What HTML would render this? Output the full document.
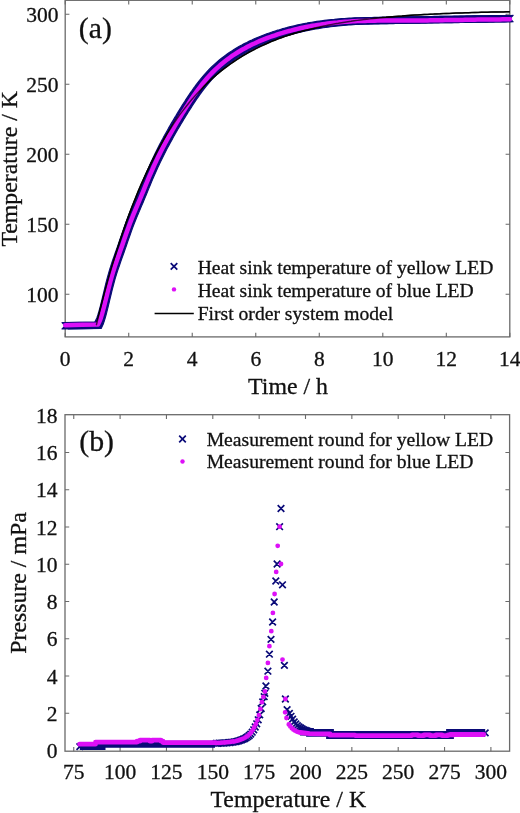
<!DOCTYPE html>
<html lang="en"><head><meta charset="utf-8"><title>Figure</title>
<style>
html,body{margin:0;padding:0;background:#fff;}
body{width:520px;height:813px;overflow:hidden;}
svg{display:block;}
text{font-family:"Liberation Serif", "DejaVu Serif", serif;fill:#111;stroke:#111;stroke-width:0.3px;}
.tk{font-size:21.5px;}
.lb{font-size:23.8px;}
.lg{font-size:19.62px;}
.pn{font-size:29.8px;}
</style></head><body>
<svg width="520" height="813" viewBox="0 0 520 813">
<rect x="0" y="0" width="520" height="813" fill="#fff"/>

<g id="plotA">
<rect x="65.2" y="0.3" width="444.60" height="336.60" fill="none" stroke="#6a6a6a" stroke-width="1.3"/>
<path d="M65.20 336.9v-4.2M65.20 0.3v4.2M128.72 336.9v-4.2M128.72 0.3v4.2M192.24 336.9v-4.2M192.24 0.3v4.2M255.76 336.9v-4.2M255.76 0.3v4.2M319.28 336.9v-4.2M319.28 0.3v4.2M382.80 336.9v-4.2M382.80 0.3v4.2M446.32 336.9v-4.2M446.32 0.3v4.2M509.84 336.9v-4.2M509.84 0.3v4.2M65.2 294.25h4.2M509.8 294.25h-4.2M65.2 224.25h4.2M509.8 224.25h-4.2M65.2 154.25h4.2M509.8 154.25h-4.2M65.2 84.25h4.2M509.8 84.25h-4.2M65.2 14.25h4.2M509.8 14.25h-4.2" stroke="#6a6a6a" stroke-width="1.1" fill="none"/>
<path d="M68.4 329.0L85.2 328.7L101.2 328.4L103.2 324.3L104.2 321.4L105.2 318.1L106.2 314.5L107.2 310.6L108.2 306.6L109.2 302.4L110.2 298.2L111.2 294.0L112.2 289.9L113.2 286.0L114.2 282.3L115.2 278.7L116.2 275.4L117.2 272.2L118.2 269.1L119.2 266.2L120.2 263.3L121.2 260.4L122.2 257.6L123.2 254.8L124.2 252.0L125.2 249.1L126.2 246.2L127.2 243.3L128.2 240.4L129.2 237.5L130.2 234.7L131.2 231.9L132.2 229.1L133.2 226.4L134.2 223.8L135.2 221.3L136.2 218.8L137.2 216.4L138.2 214.0L139.2 211.6L140.2 209.3L141.2 206.9L142.2 204.6L143.2 202.2L144.2 199.8L145.2 197.4L146.2 195.0L147.2 192.5L148.2 190.1L149.2 187.6L150.2 185.2L151.2 182.8L152.2 180.4L153.2 178.1L154.2 175.8L155.2 173.5L156.2 171.2L157.2 169.0L158.2 166.8L159.2 164.7L160.2 162.6L161.2 160.5L162.2 158.5L163.2 156.4L164.2 154.5L165.2 152.5L166.2 150.5L167.2 148.6L168.2 146.7L169.2 144.9L170.2 143.0L171.2 141.2L172.2 139.4L173.2 137.6L174.2 135.8L175.2 134.0L176.2 132.3L177.2 130.5L178.2 128.8L179.2 127.1L180.2 125.4L181.2 123.7L182.2 122.1L183.2 120.4L184.2 118.8L185.2 117.1L186.2 115.5L187.2 113.9L188.2 112.3L189.2 110.7L190.2 109.1L191.2 107.6L192.2 106.0L193.2 104.5L194.2 103.0L195.2 101.5L196.2 100.0L197.2 98.5L198.2 97.1L199.2 95.6L200.2 94.2L201.2 92.9L202.2 91.5L203.2 90.2L205.7 86.9L208.2 83.9L210.7 80.9L213.2 78.2L215.7 75.6L218.2 73.1L220.7 70.8L223.2 68.5L225.7 66.4L228.2 64.4L230.7 62.5L233.2 60.7L235.7 58.9L238.2 57.3L240.7 55.7L243.2 54.2L245.7 52.7L248.2 51.4L250.7 50.0L253.2 48.8L255.7 47.5L258.2 46.4L260.7 45.2L263.2 44.1L265.7 43.1L268.2 42.1L270.7 41.1L273.2 40.2L275.7 39.3L278.2 38.5L280.7 37.6L283.2 36.8L285.7 36.1L288.2 35.3L290.7 34.6L293.2 34.0L295.7 33.3L298.2 32.7L300.7 32.1L303.2 31.5L305.7 30.9L308.2 30.4L310.7 29.9L313.2 29.5L315.7 29.0L318.2 28.6L320.7 28.2L323.2 27.8L325.7 27.4L328.2 27.1L330.7 26.8L333.2 26.5L335.7 26.2L338.2 25.9L340.7 25.7L343.2 25.4L345.7 25.2L348.2 25.0L350.7 24.9L353.2 24.7L355.7 24.5L358.2 24.4L360.7 24.3L363.2 24.2L365.7 24.1L368.2 24.1L370.7 24.0L373.2 24.0L375.7 23.9L378.2 23.9L380.7 23.8L383.2 23.8L385.7 23.7L388.2 23.7L390.7 23.6L393.2 23.6L395.7 23.5L398.2 23.5L400.7 23.4L403.2 23.4L405.7 23.4L408.2 23.3L410.7 23.3L413.2 23.2L415.7 23.2L418.2 23.2L420.7 23.1L423.2 23.1L425.7 23.1L428.2 23.0L430.7 23.0L433.2 22.9L435.7 22.9L438.2 22.9L440.7 22.8L443.2 22.8L445.7 22.8L448.2 22.7L450.7 22.7L453.2 22.6L455.7 22.6L458.2 22.6L460.7 22.5L463.2 22.5L465.7 22.5L468.2 22.4L470.7 22.4L473.2 22.3L475.7 22.3L478.2 22.3L480.7 22.2L483.2 22.2L485.7 22.2L488.2 22.1L490.7 22.1L493.2 22.1L495.7 22.0L498.2 22.0L500.7 22.0L503.2 22.0L505.7 21.9L508.2 21.9L510.7 21.9L513.2 21.8L506.8 15.4L504.3 15.5L501.8 15.5L499.3 15.5L496.8 15.6L494.3 15.6L491.8 15.6L489.3 15.6L486.8 15.7L484.3 15.7L481.8 15.7L479.3 15.8L476.8 15.8L474.3 15.8L471.8 15.9L469.3 15.9L466.8 15.9L464.3 16.0L461.8 16.0L459.3 16.1L456.8 16.1L454.3 16.1L451.8 16.2L449.3 16.2L446.8 16.2L444.3 16.3L441.8 16.3L439.3 16.4L436.8 16.4L434.3 16.4L431.8 16.5L429.3 16.5L426.8 16.5L424.3 16.6L421.8 16.6L419.3 16.7L416.8 16.7L414.3 16.7L411.8 16.8L409.3 16.8L406.8 16.8L404.3 16.9L401.8 16.9L399.3 17.0L396.8 17.0L394.3 17.0L391.8 17.1L389.3 17.1L386.8 17.2L384.3 17.2L381.8 17.3L379.3 17.3L376.8 17.4L374.3 17.4L371.8 17.5L369.3 17.5L366.8 17.6L364.3 17.6L361.8 17.7L359.3 17.7L356.8 17.8L354.3 17.9L351.8 18.0L349.3 18.1L346.8 18.3L344.3 18.5L341.8 18.6L339.3 18.8L336.8 19.0L334.3 19.3L331.8 19.5L329.3 19.8L326.8 20.1L324.3 20.4L321.8 20.7L319.3 21.0L316.8 21.4L314.3 21.8L311.8 22.2L309.3 22.6L306.8 23.1L304.3 23.5L301.8 24.0L299.3 24.5L296.8 25.1L294.3 25.7L291.8 26.3L289.3 26.9L286.8 27.6L284.3 28.2L281.8 28.9L279.3 29.7L276.8 30.4L274.3 31.2L271.8 32.1L269.3 32.9L266.8 33.8L264.3 34.7L261.8 35.7L259.3 36.7L256.8 37.7L254.3 38.8L251.8 40.0L249.3 41.1L246.8 42.4L244.3 43.6L241.8 45.0L239.3 46.3L236.8 47.8L234.3 49.3L231.8 50.9L229.3 52.5L226.8 54.3L224.3 56.1L221.8 58.0L219.3 60.0L216.8 62.1L214.3 64.4L211.8 66.7L209.3 69.2L206.8 71.8L204.3 74.5L201.8 77.5L199.3 80.5L196.8 83.8L195.8 85.1L194.8 86.5L193.8 87.8L192.8 89.2L191.8 90.7L190.8 92.1L189.8 93.6L188.8 95.1L187.8 96.6L186.8 98.1L185.8 99.6L184.8 101.2L183.8 102.7L182.8 104.3L181.8 105.9L180.8 107.5L179.8 109.1L178.8 110.7L177.8 112.4L176.8 114.0L175.8 115.7L174.8 117.3L173.8 119.0L172.8 120.7L171.8 122.4L170.8 124.1L169.8 125.9L168.8 127.6L167.8 129.4L166.8 131.2L165.8 133.0L164.8 134.8L163.8 136.6L162.8 138.5L161.8 140.3L160.8 142.2L159.8 144.1L158.8 146.1L157.8 148.1L156.8 150.0L155.8 152.1L154.8 154.1L153.8 156.2L152.8 158.3L151.8 160.4L150.8 162.6L149.8 164.8L148.8 167.1L147.8 169.4L146.8 171.7L145.8 174.0L144.8 176.4L143.8 178.8L142.8 181.2L141.8 183.7L140.8 186.1L139.8 188.6L138.8 191.0L137.8 193.4L136.8 195.8L135.8 198.2L134.8 200.5L133.8 202.9L132.8 205.2L131.8 207.6L130.8 210.0L129.8 212.4L128.8 214.9L127.8 217.4L126.8 220.0L125.8 222.7L124.8 225.5L123.8 228.3L122.8 231.1L121.8 234.0L120.8 236.9L119.8 239.8L118.8 242.7L117.8 245.6L116.8 248.4L115.8 251.2L114.8 254.0L113.8 256.9L112.8 259.8L111.8 262.7L110.8 265.8L109.8 269.0L108.8 272.3L107.8 275.9L106.8 279.6L105.8 283.5L104.8 287.6L103.8 291.8L102.8 296.0L101.8 300.2L100.8 304.2L99.8 308.1L98.8 311.7L97.8 315.0L96.8 317.9L94.8 322.0L78.8 322.3L62.0 322.6Z" fill="#0a0a78" stroke="#0a0a78" stroke-width="1.1" stroke-linejoin="round"/>
<path d="M68.4 322.6L85.2 322.3L101.2 322.0L103.2 317.9L104.2 315.0L105.2 311.7L106.2 308.1L107.2 304.2L108.2 300.2L109.2 296.0L110.2 291.8L111.2 287.6L112.2 283.5L113.2 279.6L114.2 275.9L115.2 272.3L116.2 269.0L117.2 265.8L118.2 262.7L119.2 259.8L120.2 256.9L121.2 254.0L122.2 251.2L123.2 248.4L124.2 245.6L125.2 242.7L126.2 239.8L127.2 236.9L128.2 234.0L129.2 231.1L130.2 228.3L131.2 225.5L132.2 222.7L133.2 220.0L134.2 217.4L135.2 214.9L136.2 212.4L137.2 210.0L138.2 207.6L139.2 205.2L140.2 202.9L141.2 200.5L142.2 198.2L143.2 195.8L144.2 193.4L145.2 191.0L146.2 188.6L147.2 186.1L148.2 183.7L149.2 181.2L150.2 178.8L151.2 176.4L152.2 174.0L153.2 171.7L154.2 169.4L155.2 167.1L156.2 164.8L157.2 162.6L158.2 160.4L159.2 158.3L160.2 156.2L161.2 154.1L162.2 152.1L163.2 150.0L164.2 148.1L165.2 146.1L166.2 144.1L167.2 142.2L168.2 140.3L169.2 138.5L170.2 136.6L171.2 134.8L172.2 133.0L173.2 131.2L174.2 129.4L175.2 127.6L176.2 125.9L177.2 124.1L178.2 122.4L179.2 120.7L180.2 119.0L181.2 117.3L182.2 115.7L183.2 114.0L184.2 112.4L185.2 110.7L186.2 109.1L187.2 107.5L188.2 105.9L189.2 104.3L190.2 102.7L191.2 101.2L192.2 99.6L193.2 98.1L194.2 96.6L195.2 95.1L196.2 93.6L197.2 92.1L198.2 90.7L199.2 89.2L200.2 87.8L201.2 86.5L202.2 85.1L203.2 83.8L205.7 80.5L208.2 77.5L210.7 74.5L213.2 71.8L215.7 69.2L218.2 66.7L220.7 64.4L223.2 62.1L225.7 60.0L228.2 58.0L230.7 56.1L233.2 54.3L235.7 52.5L238.2 50.9L240.7 49.3L243.2 47.8L245.7 46.3L248.2 45.0L250.7 43.6L253.2 42.4L255.7 41.1L258.2 40.0L260.7 38.8L263.2 37.7L265.7 36.7L268.2 35.7L270.7 34.7L273.2 33.8L275.7 32.9L278.2 32.1L280.7 31.2L283.2 30.4L285.7 29.7L288.2 28.9L290.7 28.2L293.2 27.6L295.7 26.9L298.2 26.3L300.7 25.7L303.2 25.1L305.7 24.5L308.2 24.0L310.7 23.5L313.2 23.1L315.7 22.6L318.2 22.2L320.7 21.8L323.2 21.4L325.7 21.0L328.2 20.7L330.7 20.4L333.2 20.1L335.7 19.8L338.2 19.5L340.7 19.3L343.2 19.0L345.7 18.8L348.2 18.6L350.7 18.5L353.2 18.3L355.7 18.1L358.2 18.0L360.7 17.9L363.2 17.8L365.7 17.7L368.2 17.7L370.7 17.6L373.2 17.6L375.7 17.5L378.2 17.5L380.7 17.4L383.2 17.4L385.7 17.3L388.2 17.3L390.7 17.2L393.2 17.2L395.7 17.1L398.2 17.1L400.7 17.0L403.2 17.0L405.7 17.0L408.2 16.9L410.7 16.9L413.2 16.8L415.7 16.8L418.2 16.8L420.7 16.7L423.2 16.7L425.7 16.7L428.2 16.6L430.7 16.6L433.2 16.5L435.7 16.5L438.2 16.5L440.7 16.4L443.2 16.4L445.7 16.4L448.2 16.3L450.7 16.3L453.2 16.2L455.7 16.2L458.2 16.2L460.7 16.1L463.2 16.1L465.7 16.1L468.2 16.0L470.7 16.0L473.2 15.9L475.7 15.9L478.2 15.9L480.7 15.8L483.2 15.8L485.7 15.8L488.2 15.7L490.7 15.7L493.2 15.7L495.7 15.6L498.2 15.6L500.7 15.6L503.2 15.6L505.7 15.5L508.2 15.5L510.7 15.5L513.2 15.4L506.8 21.8L504.3 21.9L501.8 21.9L499.3 21.9L496.8 22.0L494.3 22.0L491.8 22.0L489.3 22.0L486.8 22.1L484.3 22.1L481.8 22.1L479.3 22.2L476.8 22.2L474.3 22.2L471.8 22.3L469.3 22.3L466.8 22.3L464.3 22.4L461.8 22.4L459.3 22.5L456.8 22.5L454.3 22.5L451.8 22.6L449.3 22.6L446.8 22.6L444.3 22.7L441.8 22.7L439.3 22.8L436.8 22.8L434.3 22.8L431.8 22.9L429.3 22.9L426.8 22.9L424.3 23.0L421.8 23.0L419.3 23.1L416.8 23.1L414.3 23.1L411.8 23.2L409.3 23.2L406.8 23.2L404.3 23.3L401.8 23.3L399.3 23.4L396.8 23.4L394.3 23.4L391.8 23.5L389.3 23.5L386.8 23.6L384.3 23.6L381.8 23.7L379.3 23.7L376.8 23.8L374.3 23.8L371.8 23.9L369.3 23.9L366.8 24.0L364.3 24.0L361.8 24.1L359.3 24.1L356.8 24.2L354.3 24.3L351.8 24.4L349.3 24.5L346.8 24.7L344.3 24.9L341.8 25.0L339.3 25.2L336.8 25.4L334.3 25.7L331.8 25.9L329.3 26.2L326.8 26.5L324.3 26.8L321.8 27.1L319.3 27.4L316.8 27.8L314.3 28.2L311.8 28.6L309.3 29.0L306.8 29.5L304.3 29.9L301.8 30.4L299.3 30.9L296.8 31.5L294.3 32.1L291.8 32.7L289.3 33.3L286.8 34.0L284.3 34.6L281.8 35.3L279.3 36.1L276.8 36.8L274.3 37.6L271.8 38.5L269.3 39.3L266.8 40.2L264.3 41.1L261.8 42.1L259.3 43.1L256.8 44.1L254.3 45.2L251.8 46.4L249.3 47.5L246.8 48.8L244.3 50.0L241.8 51.4L239.3 52.7L236.8 54.2L234.3 55.7L231.8 57.3L229.3 58.9L226.8 60.7L224.3 62.5L221.8 64.4L219.3 66.4L216.8 68.5L214.3 70.8L211.8 73.1L209.3 75.6L206.8 78.2L204.3 80.9L201.8 83.9L199.3 86.9L196.8 90.2L195.8 91.5L194.8 92.9L193.8 94.2L192.8 95.6L191.8 97.1L190.8 98.5L189.8 100.0L188.8 101.5L187.8 103.0L186.8 104.5L185.8 106.0L184.8 107.6L183.8 109.1L182.8 110.7L181.8 112.3L180.8 113.9L179.8 115.5L178.8 117.1L177.8 118.8L176.8 120.4L175.8 122.1L174.8 123.7L173.8 125.4L172.8 127.1L171.8 128.8L170.8 130.5L169.8 132.3L168.8 134.0L167.8 135.8L166.8 137.6L165.8 139.4L164.8 141.2L163.8 143.0L162.8 144.9L161.8 146.7L160.8 148.6L159.8 150.5L158.8 152.5L157.8 154.5L156.8 156.4L155.8 158.5L154.8 160.5L153.8 162.6L152.8 164.7L151.8 166.8L150.8 169.0L149.8 171.2L148.8 173.5L147.8 175.8L146.8 178.1L145.8 180.4L144.8 182.8L143.8 185.2L142.8 187.6L141.8 190.1L140.8 192.5L139.8 195.0L138.8 197.4L137.8 199.8L136.8 202.2L135.8 204.6L134.8 206.9L133.8 209.3L132.8 211.6L131.8 214.0L130.8 216.4L129.8 218.8L128.8 221.3L127.8 223.8L126.8 226.4L125.8 229.1L124.8 231.9L123.8 234.7L122.8 237.5L121.8 240.4L120.8 243.3L119.8 246.2L118.8 249.1L117.8 252.0L116.8 254.8L115.8 257.6L114.8 260.4L113.8 263.3L112.8 266.2L111.8 269.1L110.8 272.2L109.8 275.4L108.8 278.7L107.8 282.3L106.8 286.0L105.8 289.9L104.8 294.0L103.8 298.2L102.8 302.4L101.8 306.6L100.8 310.6L99.8 314.5L98.8 318.1L97.8 321.4L96.8 324.3L94.8 328.4L78.8 328.7L62.0 329.0Z" fill="#0a0a78" stroke="#0a0a78" stroke-width="1.1" stroke-linejoin="round"/>
<path d="M65.2 325.2L96.3 325.2L97.0 322.6L100.1 309.7L103.3 297.4L106.5 285.6L109.7 274.3L112.8 263.5L116.0 253.1L119.2 243.1L122.4 233.5L125.5 224.4L128.7 215.6L131.9 207.1L135.1 199.1L138.2 191.3L141.4 183.9L144.6 176.7L147.8 169.9L151.0 163.4L154.1 157.1L157.3 151.0L160.5 145.3L163.7 139.7L166.8 134.4L170.0 129.3L173.2 124.4L176.4 119.7L179.5 115.2L182.7 110.9L185.9 106.8L189.1 102.8L192.2 99.0L195.4 95.4L198.6 91.9L201.8 88.6L204.9 85.3L208.1 82.3L211.3 79.3L214.5 76.5L217.6 73.8L220.8 71.2L224.0 68.7L227.2 66.3L230.4 64.0L233.5 61.8L236.7 59.7L239.9 57.6L243.1 55.7L246.2 53.8L249.4 52.0L252.6 50.3L255.8 48.7L258.9 47.1L262.1 45.6L265.3 44.2L268.5 42.8L271.6 41.4L274.8 40.2L278.0 38.9L281.2 37.8L284.3 36.6L287.5 35.6L290.7 34.5L293.9 33.5L297.0 32.6L300.2 31.7L303.4 30.8L306.6 30.0L309.8 29.2L312.9 28.4L316.1 27.7L319.3 26.9L322.5 26.3L325.6 25.6L328.8 25.0L332.0 24.4L335.2 23.8L338.3 23.3L341.5 22.7L344.7 22.2L347.9 21.7L351.0 21.3L354.2 20.8L357.4 20.4L360.6 20.0L363.7 19.6L366.9 19.2L370.1 18.9L373.3 18.5L376.4 18.2L379.6 17.9L382.8 17.5L386.0 17.3L389.2 17.0L392.3 16.7L395.5 16.4L398.7 16.2L401.9 16.0L405.0 15.7L408.2 15.5L411.4 15.3L414.6 15.1L417.7 14.9L420.9 14.7L424.1 14.5L427.3 14.4L430.4 14.2L433.6 14.1L436.8 13.9L440.0 13.8L443.1 13.6L446.3 13.5L449.5 13.4L452.7 13.2L455.8 13.1L459.0 13.0L462.2 12.9L465.4 12.8L468.6 12.7L471.7 12.6L474.9 12.5L478.1 12.4L481.3 12.3L484.4 12.3L487.6 12.2L490.8 12.1L494.0 12.0L497.1 12.0L500.3 11.9L503.5 11.9L506.7 11.8L509.8 11.7" fill="none" stroke="#000" stroke-width="1.5" stroke-linejoin="round"/>
<path d="M65.2 325.3L82.0 324.8L98.0 324.4L100.0 320.3L101.0 317.4L102.0 314.1L103.0 310.5L104.0 306.7L105.0 302.8L106.0 298.7L107.0 294.6L108.0 290.5L109.0 286.6L110.0 282.7L111.0 279.1L112.0 275.5L113.0 272.2L114.0 269.0L115.0 265.9L116.0 263.0L117.0 260.1L118.0 257.2L119.0 254.4L120.0 251.6L121.0 248.8L122.0 245.9L123.0 243.0L124.0 240.1L125.0 237.2L126.0 234.3L127.0 231.5L128.0 228.7L129.0 225.9L130.0 223.2L131.0 220.6L132.0 218.1L133.0 215.6L134.0 213.2L135.0 210.8L136.0 208.4L137.0 206.1L138.0 203.7L139.0 201.4L140.0 199.0L141.0 196.6L142.0 194.2L143.0 191.8L144.0 189.3L145.0 186.9L146.0 184.4L147.0 182.0L148.0 179.6L149.0 177.2L150.0 174.9L151.0 172.6L152.0 170.3L153.0 168.0L154.0 165.8L155.0 163.6L156.0 161.5L157.0 159.4L158.0 157.3L159.0 155.3L160.0 153.2L161.0 151.3L162.0 149.3L163.0 147.3L164.0 145.4L165.0 143.5L166.0 141.7L167.0 139.8L168.0 138.0L169.0 136.2L170.0 134.4L171.0 132.6L172.0 130.8L173.0 129.1L174.0 127.3L175.0 125.6L176.0 123.9L177.0 122.2L178.0 120.5L179.0 118.9L180.0 117.2L181.0 115.6L182.0 113.9L183.0 112.3L184.0 110.7L185.0 109.1L186.0 107.5L187.0 105.9L188.0 104.4L189.0 102.8L190.0 101.3L191.0 99.8L192.0 98.3L193.0 96.8L194.0 95.3L195.0 93.9L196.0 92.4L197.0 91.0L198.0 89.7L199.0 88.3L200.0 87.0L202.5 83.7L205.0 80.7L207.5 77.7L210.0 75.0L212.5 72.4L215.0 69.9L217.5 67.6L220.0 65.3L222.5 63.2L225.0 61.2L227.5 59.3L230.0 57.5L232.5 55.7L235.0 54.1L237.5 52.5L240.0 51.0L242.5 49.5L245.0 48.2L247.5 46.8L250.0 45.6L252.5 44.3L255.0 43.2L257.5 42.0L260.0 40.9L262.5 39.9L265.0 38.9L267.5 37.9L270.0 37.0L272.5 36.1L275.0 35.3L277.5 34.4L280.0 33.6L282.5 32.9L285.0 32.1L287.5 31.4L290.0 30.8L292.5 30.1L295.0 29.5L297.5 28.9L300.0 28.3L302.5 27.7L305.0 27.2L307.5 26.7L310.0 26.3L312.5 25.8L315.0 25.4L317.5 25.0L320.0 24.6L322.5 24.2L325.0 23.9L327.5 23.6L330.0 23.3L332.5 23.0L335.0 22.7L337.5 22.5L340.0 22.2L342.5 22.0L345.0 21.8L347.5 21.7L350.0 21.5L352.5 21.3L355.0 21.2L357.5 21.1L360.0 21.0L362.5 20.9L365.0 20.9L367.5 20.8L370.0 20.8L372.5 20.7L375.0 20.7L377.5 20.6L380.0 20.6L382.5 20.6L385.0 20.6L387.5 20.6L390.0 20.5L392.5 20.5L395.0 20.5L397.5 20.5L400.0 20.5L402.5 20.5L405.0 20.5L407.5 20.5L410.0 20.5L412.5 20.5L415.0 20.5L417.5 20.5L420.0 20.5L422.5 20.5L425.0 20.4L427.5 20.4L430.0 20.3L432.5 20.3L435.0 20.3L437.5 20.2L440.0 20.2L442.5 20.2L445.0 20.1L447.5 20.1L450.0 20.0L452.5 20.0L455.0 20.0L457.5 19.9L460.0 19.9L462.5 19.9L465.0 19.8L467.5 19.8L470.0 19.7L472.5 19.7L475.0 19.7L477.5 19.6L480.0 19.6L482.5 19.6L485.0 19.5L487.5 19.5L490.0 19.5L492.5 19.4L495.0 19.4L497.5 19.4L500.0 19.4L502.5 19.3L505.0 19.3L507.5 19.3L510.0 19.2" fill="none" stroke="#dd10f7" stroke-width="4.5" stroke-linecap="round" stroke-linejoin="round"/>
<path d="M96.3 325.2L97.0 322.6L100.1 309.7L103.3 297.4L106.5 285.6L109.7 274.3L112.8 263.5L116.0 253.1L119.2 243.1L122.4 233.5L125.5 224.4L128.7 215.6L131.9 207.1L135.1 199.1L138.2 191.3L141.4 183.9L144.6 176.7L147.8 169.9L151.0 163.4L154.1 157.1L157.3 151.0L160.5 145.3L163.7 139.7L166.8 134.4L170.0 129.3L173.2 124.4L176.4 119.7L179.5 115.2L182.7 110.9L185.9 106.8L189.1 102.8L192.2 99.0L195.4 95.4L198.6 91.9L201.8 88.6L204.9 85.3L208.1 82.3L211.3 79.3L214.5 76.5L217.6 73.8L220.8 71.2L224.0 68.7L227.2 66.3L230.4 64.0L233.5 61.8L236.7 59.7L239.9 57.6L243.1 55.7L246.2 53.8L249.4 52.0L252.6 50.3L255.8 48.7L258.9 47.1L262.1 45.6L265.3 44.2L268.5 42.8L271.6 41.4L274.8 40.2L278.0 38.9L281.2 37.8L284.3 36.6L287.5 35.6L290.7 34.5L293.9 33.5L297.0 32.6L300.2 31.7L303.4 30.8L306.6 30.0L309.8 29.2L312.9 28.4L316.1 27.7L319.3 26.9L322.5 26.3L325.6 25.6L328.8 25.0L332.0 24.4L335.2 23.8L338.3 23.3L341.5 22.7L344.7 22.2L347.9 21.7L351.0 21.3L354.2 20.8L357.4 20.4L360.6 20.0L363.7 19.6L366.9 19.2L370.1 18.9L373.3 18.5L376.4 18.2L379.6 17.9L382.8 17.5L386.0 17.3L389.2 17.0L392.3 16.7L395.5 16.4L398.7 16.2L401.9 16.0L405.0 15.7L408.2 15.5L411.4 15.3L414.6 15.1L417.7 14.9L420.9 14.7L424.1 14.5L427.3 14.4L430.4 14.2L433.6 14.1L436.8 13.9L440.0 13.8L443.1 13.6L446.3 13.5L449.5 13.4L452.7 13.2L455.8 13.1L459.0 13.0L462.2 12.9L465.4 12.8L468.6 12.7L471.7 12.6L474.9 12.5L478.1 12.4L481.3 12.3L484.4 12.3L487.6 12.2L490.8 12.1L494.0 12.0L497.1 12.0L500.3 11.9L503.5 11.9L506.7 11.8L509.8 11.7" fill="none" stroke="#000" stroke-opacity="0.7" stroke-width="1.4" stroke-linejoin="round"/>
<text class="tk" x="65.2" y="365.5" text-anchor="middle">0</text>
<text class="tk" x="128.7" y="365.5" text-anchor="middle">2</text>
<text class="tk" x="192.2" y="365.5" text-anchor="middle">4</text>
<text class="tk" x="255.8" y="365.5" text-anchor="middle">6</text>
<text class="tk" x="319.3" y="365.5" text-anchor="middle">8</text>
<text class="tk" x="382.8" y="365.5" text-anchor="middle">10</text>
<text class="tk" x="446.3" y="365.5" text-anchor="middle">12</text>
<text class="tk" x="509.8" y="365.5" text-anchor="middle">14</text>
<text class="tk" x="58.5" y="301.6" text-anchor="end">100</text>
<text class="tk" x="58.5" y="231.6" text-anchor="end">150</text>
<text class="tk" x="58.5" y="161.6" text-anchor="end">200</text>
<text class="tk" x="58.5" y="91.5" text-anchor="end">250</text>
<text class="tk" x="58.5" y="21.6" text-anchor="end">300</text>
<text class="lb" x="288" y="394" text-anchor="middle">Time / h</text>
<text class="lb" transform="translate(16.6 168.8) rotate(-90)" text-anchor="middle">Temperature / K</text>
<text class="pn" x="78.8" y="38.0">(a)</text>
<path d="M170.7 263.1l6.6 6.6m0 -6.6l-6.6 6.6" stroke="#0a0a78" stroke-width="1.7" fill="none"/>
<circle cx="174" cy="289.4" r="2.2" fill="#dd10f7"/>
<path d="M154.6 313.5H193.8" stroke="#000" stroke-width="1.5"/>
<text class="lg" x="197.7" y="273.8">Heat sink temperature of yellow LED</text>
<text class="lg" x="197.7" y="296.9">Heat sink temperature of blue LED</text>
<text class="lg" x="197.7" y="320">First order system model</text>
</g>
<g id="plotB">
<rect x="65.0" y="414.7" width="444.60" height="336.50" fill="none" stroke="#6a6a6a" stroke-width="1.3"/>
<path d="M73.75 751.2v-4.2M73.75 414.7v4.2M120.10 751.2v-4.2M120.10 414.7v4.2M166.45 751.2v-4.2M166.45 414.7v4.2M212.80 751.2v-4.2M212.80 414.7v4.2M259.15 751.2v-4.2M259.15 414.7v4.2M305.50 751.2v-4.2M305.50 414.7v4.2M351.85 751.2v-4.2M351.85 414.7v4.2M398.20 751.2v-4.2M398.20 414.7v4.2M444.55 751.2v-4.2M444.55 414.7v4.2M490.90 751.2v-4.2M490.90 414.7v4.2M65.0 713.25h4.2M509.6 713.25h-4.2M65.0 676.00h4.2M509.6 676.00h-4.2M65.0 638.75h4.2M509.6 638.75h-4.2M65.0 601.50h4.2M509.6 601.50h-4.2M65.0 564.25h4.2M509.6 564.25h-4.2M65.0 527.00h4.2M509.6 527.00h-4.2M65.0 489.75h4.2M509.6 489.75h-4.2M65.0 452.50h4.2M509.6 452.50h-4.2" stroke="#6a6a6a" stroke-width="1.1" fill="none"/>
<path d="M79.8 746.6L102.0 746.6L102.0 744.3L215.0 744.3" fill="none" stroke="#0a0a78" stroke-width="7" stroke-linejoin="miter"/>
<path d="M300.0 731.6L310.0 731.8L310.0 732.8L330.0 732.8L330.0 735.0L450.0 735.0L450.0 732.9L485.2 732.9" fill="none" stroke="#0a0a78" stroke-width="7.8" stroke-linejoin="miter"/>
<path d="M260.9 693.4l6.6 6.6m0 -6.6l-6.6 6.6M259.4 698.6l6.6 6.6m0 -6.6l-6.6 6.6M257.9 705.2l6.6 6.6m0 -6.6l-6.6 6.6M256.4 711.6l6.6 6.6m0 -6.6l-6.6 6.6M254.9 716.5l6.6 6.6m0 -6.6l-6.6 6.6M253.4 720.5l6.6 6.6m0 -6.6l-6.6 6.6M251.9 723.7l6.6 6.6m0 -6.6l-6.6 6.6M250.4 726.5l6.6 6.6m0 -6.6l-6.6 6.6M248.9 728.9l6.6 6.6m0 -6.6l-6.6 6.6M247.4 730.8l6.6 6.6m0 -6.6l-6.6 6.6M245.9 732.2l6.6 6.6m0 -6.6l-6.6 6.6M244.4 733.4l6.6 6.6m0 -6.6l-6.6 6.6M242.9 734.4l6.6 6.6m0 -6.6l-6.6 6.6M241.4 735.3l6.6 6.6m0 -6.6l-6.6 6.6M239.9 735.9l6.6 6.6m0 -6.6l-6.6 6.6M238.4 736.5l6.6 6.6m0 -6.6l-6.6 6.6M236.9 737.1l6.6 6.6m0 -6.6l-6.6 6.6M235.4 737.5l6.6 6.6m0 -6.6l-6.6 6.6M233.9 738.0l6.6 6.6m0 -6.6l-6.6 6.6M232.4 738.3l6.6 6.6m0 -6.6l-6.6 6.6M230.9 738.6l6.6 6.6m0 -6.6l-6.6 6.6M229.4 738.8l6.6 6.6m0 -6.6l-6.6 6.6M227.9 739.0l6.6 6.6m0 -6.6l-6.6 6.6M226.4 739.2l6.6 6.6m0 -6.6l-6.6 6.6M224.9 739.3l6.6 6.6m0 -6.6l-6.6 6.6M223.4 739.5l6.6 6.6m0 -6.6l-6.6 6.6M221.9 739.6l6.6 6.6m0 -6.6l-6.6 6.6M220.4 739.7l6.6 6.6m0 -6.6l-6.6 6.6M218.9 739.8l6.6 6.6m0 -6.6l-6.6 6.6M217.4 739.9l6.6 6.6m0 -6.6l-6.6 6.6M215.9 739.9l6.6 6.6m0 -6.6l-6.6 6.6M214.4 740.0l6.6 6.6m0 -6.6l-6.6 6.6M212.9 740.0l6.6 6.6m0 -6.6l-6.6 6.6M277.7 505.2l6.6 6.6m0 -6.6l-6.6 6.6M276.3 523.4l6.6 6.6m0 -6.6l-6.6 6.6M273.8 560.7l6.6 6.6m0 -6.6l-6.6 6.6M272.5 577.7l6.6 6.6m0 -6.6l-6.6 6.6M279.2 581.5l6.6 6.6m0 -6.6l-6.6 6.6M270.9 598.7l6.6 6.6m0 -6.6l-6.6 6.6M269.3 618.7l6.6 6.6m0 -6.6l-6.6 6.6M267.7 636.1l6.6 6.6m0 -6.6l-6.6 6.6M266.1 650.9l6.6 6.6m0 -6.6l-6.6 6.6M264.6 667.9l6.6 6.6m0 -6.6l-6.6 6.6M262.6 682.7l6.6 6.6m0 -6.6l-6.6 6.6M261.5 690.0l6.6 6.6m0 -6.6l-6.6 6.6M281.1 662.1l6.6 6.6m0 -6.6l-6.6 6.6M282.1 695.7l6.6 6.6m0 -6.6l-6.6 6.6M283.8 706.3l6.6 6.6m0 -6.6l-6.6 6.6M286.1 710.1l6.6 6.6m0 -6.6l-6.6 6.6M287.7 713.0l6.6 6.6m0 -6.6l-6.6 6.6M289.3 715.8l6.6 6.6m0 -6.6l-6.6 6.6M290.9 718.6l6.6 6.6m0 -6.6l-6.6 6.6M292.5 720.7l6.6 6.6m0 -6.6l-6.6 6.6M294.1 722.3l6.6 6.6m0 -6.6l-6.6 6.6M295.7 723.7l6.6 6.6m0 -6.6l-6.6 6.6M297.3 724.7l6.6 6.6m0 -6.6l-6.6 6.6M298.9 725.7l6.6 6.6m0 -6.6l-6.6 6.6M300.5 726.5l6.6 6.6m0 -6.6l-6.6 6.6M302.1 727.2l6.6 6.6m0 -6.6l-6.6 6.6M303.7 727.6l6.6 6.6m0 -6.6l-6.6 6.6M481.9 729.6l6.6 6.6m0 -6.6l-6.6 6.6M76.5 743.3l6.6 6.6m0 -6.6l-6.6 6.6" fill="none" stroke="#0a0a78" stroke-width="1.7"/>
<path d="M79.6 744.2L95.5 744.2L95.5 742.2L137.0 742.2L137.0 741.2L140.0 741.2L140.0 740.2L150.0 740.2L150.0 741.2L152.0 741.2L152.0 740.2L161.0 740.2L161.0 741.2L163.0 741.2L163.0 742.6L215.0 742.6" fill="none" stroke="#dd10f7" stroke-width="4.8" stroke-linecap="round" stroke-linejoin="round"/>
<path d="M300.4 732.5L309.6 733.6L330.0 734.0L330.0 735.2L355.0 735.2L355.0 735.6L412.0 735.6L412.0 734.9L418.0 734.9L418.0 735.7L424.0 735.7L424.0 734.9L430.0 734.9L430.0 735.7L436.0 735.7L436.0 734.9L442.0 734.9L442.0 735.7L448.0 735.7L448.0 734.9L454.0 734.9L450.0 734.5L483.8 734.5" fill="none" stroke="#dd10f7" stroke-width="4.8" stroke-linecap="round" stroke-linejoin="round"/>
<path d="M264.9 691.5h0M263.4 696.9h0M261.9 702.2h0M260.4 709.0h0M258.9 715.2h0M257.4 720.0h0M255.9 723.9h0M254.4 727.0h0M252.9 729.8h0M251.4 732.1h0M249.9 733.9h0M248.4 735.3h0M246.9 736.5h0M245.4 737.4h0M243.9 738.3h0M242.4 738.9h0M240.9 739.5h0M239.4 740.0h0M237.9 740.5h0M236.4 740.9h0M234.9 741.3h0M233.4 741.5h0M231.9 741.7h0M230.4 741.9h0M228.9 742.1h0M227.4 742.2h0M225.9 742.4h0M224.4 742.5h0M222.9 742.6h0M221.4 742.7h0M219.9 742.8h0M218.4 742.8h0M216.9 742.9h0M215.4 742.9h0M279.6 526.7h0M277.7 545.8h0M281.0 564.0h0M276.2 571.9h0M274.6 594.0h0M272.9 612.9h0M271.3 631.2h0M269.4 646.2h0M267.9 662.9h0M266.2 677.9h0M282.5 659.6h0M285.4 699.0h0M285.1 712.3h0M285.1 712.3h0M286.5 718.0h0M288.8 724.4h0M290.3 726.4h0M291.8 728.2h0M293.3 729.5h0M294.8 730.4h0M296.3 731.3h0M297.8 731.9h0M299.3 732.4h0" fill="none" stroke="#dd10f7" stroke-width="4.8" stroke-linecap="round"/>
<text class="tk" x="73.8" y="778.8" text-anchor="middle">75</text>
<text class="tk" x="120.1" y="778.8" text-anchor="middle">100</text>
<text class="tk" x="166.4" y="778.8" text-anchor="middle">125</text>
<text class="tk" x="212.8" y="778.8" text-anchor="middle">150</text>
<text class="tk" x="259.1" y="778.8" text-anchor="middle">175</text>
<text class="tk" x="305.5" y="778.8" text-anchor="middle">200</text>
<text class="tk" x="351.9" y="778.8" text-anchor="middle">225</text>
<text class="tk" x="398.2" y="778.8" text-anchor="middle">250</text>
<text class="tk" x="444.6" y="778.8" text-anchor="middle">275</text>
<text class="tk" x="490.9" y="778.8" text-anchor="middle">300</text>
<text class="tk" x="57.5" y="758.1" text-anchor="end">0</text>
<text class="tk" x="57.5" y="720.9" text-anchor="end">2</text>
<text class="tk" x="57.5" y="683.6" text-anchor="end">4</text>
<text class="tk" x="57.5" y="646.4" text-anchor="end">6</text>
<text class="tk" x="57.5" y="609.1" text-anchor="end">8</text>
<text class="tk" x="57.5" y="571.9" text-anchor="end">10</text>
<text class="tk" x="57.5" y="534.6" text-anchor="end">12</text>
<text class="tk" x="57.5" y="497.4" text-anchor="end">14</text>
<text class="tk" x="57.5" y="460.1" text-anchor="end">16</text>
<text class="tk" x="57.5" y="422.9" text-anchor="end">18</text>
<text class="lb" x="288.3" y="807.1" text-anchor="middle">Temperature / K</text>
<text class="lb" transform="translate(26.2 583) rotate(-90)" text-anchor="middle">Pressure / mPa</text>
<text class="pn" x="79.3" y="451.4">(b)</text>
<path d="M179.2 435.7l6.6 6.6m0 -6.6l-6.6 6.6" stroke="#0a0a78" stroke-width="1.7" fill="none"/>
<circle cx="182.5" cy="461.5" r="2.2" fill="#dd10f7"/>
<text class="lg" x="206.7" y="446">Measurement round for yellow LED</text>
<text class="lg" x="206.7" y="468.4">Measurement round for blue LED</text>
</g>
</svg></body></html>
